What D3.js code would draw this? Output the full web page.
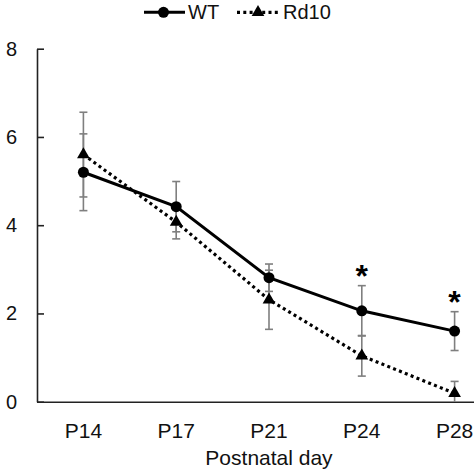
<!DOCTYPE html>
<html>
<head>
<meta charset="utf-8">
<script src="https://cdn.jsdelivr.net/npm/d3@7"></script>
<style>
  body { margin: 0; background: #fff; }
  svg { display: block; font-family: "Liberation Sans", Arial, sans-serif; }
</style>
</head>
<body>
<div class="chart"></div>
<script>
// data
const days = ["P14", "P17", "P21", "P24", "P28"];
const wt = [5.2, 4.42, 2.81, 2.06, 1.6];
const wtErr = [0.87, 0.57, 0.31, 0.57, 0.44];
const rd10 = [5.6, 4.07, 2.31, 1.04, 0.19];
const rd10Err = [0.96, 0.38, 0.67, 0.46, 0.27];
const sig = ["P24", "P28"];
const yTicks = [0, 2, 4, 6, 8];

const width = 474;
const height = 474;

const svg = d3.select('.chart')
  .append('svg')
  .attr('width', width)
  .attr('height', height);

// chart runs off the right edge like the original
const x = d3.scaleBand()
  .domain(days)
  .range([37, 501]);
const cx = d => x(d) + x.bandwidth() / 2;

const y = d3.scaleLinear()
  .domain([0, 8])
  .range([401.7, 48.7]);

// axes
svg.append('g')
  .attr('transform', 'translate(0,' + y(0) + ')')
  .call(d3.axisBottom(x).tickSize(0).tickPadding(21))
  .call(g => g.select('.domain').attr('stroke', '#222').attr('stroke-width', 1.6))
  .call(g => g.selectAll('text').attr('font-size', 21).attr('fill', '#111').attr('font-family', null));

svg.append('g')
  .attr('transform', 'translate(37,0)')
  .call(d3.axisLeft(y).tickValues(yTicks).tickSizeInner(-7).tickSizeOuter(0).tickPadding(20))
  .call(g => g.select('.domain').attr('stroke', '#222').attr('stroke-width', 1.6))
  .call(g => g.selectAll('.tick line').attr('stroke', '#222').attr('stroke-width', 1.6))
  .call(g => g.selectAll('text').attr('font-size', 20).attr('fill', '#111').attr('font-family', null));

svg.append('text')
  .attr('x', cx("P21"))
  .attr('y', 465)
  .attr('text-anchor', 'middle')
  .attr('font-size', 21)
  .attr('fill', '#111')
  .text('Postnatal day');

// error bars (cut at zero, as in the original)
const series = [
  { vals: wt, err: wtErr },
  { vals: rd10, err: rd10Err }
];
series.forEach(s => {
  const g = svg.append('g').attr('stroke', '#7f7f7f').attr('stroke-width', 1.6);
  days.forEach((d, i) => {
    const lo = y(Math.max(0, s.vals[i] - s.err[i]));
    const hi = y(s.vals[i] + s.err[i]);
    g.append('line').attr('x1', cx(d)).attr('x2', cx(d)).attr('y1', lo).attr('y2', hi);
    if (s.vals[i] - s.err[i] > 0)
      g.append('line').attr('x1', cx(d) - 4).attr('x2', cx(d) + 4).attr('y1', lo).attr('y2', lo);
    g.append('line').attr('x1', cx(d) - 4).attr('x2', cx(d) + 4).attr('y1', hi).attr('y2', hi);
  });
});

// lines
const line = d3.line()
  .x((v, i) => cx(days[i]))
  .y(v => y(v));

svg.append('path')
  .datum(rd10)
  .attr('d', line)
  .attr('fill', 'none')
  .attr('stroke', '#000')
  .attr('stroke-width', 3.2)
  .attr('stroke-dasharray', '3,3.3');

svg.append('path')
  .datum(wt)
  .attr('d', line)
  .attr('fill', 'none')
  .attr('stroke', '#000')
  .attr('stroke-width', 3);

// markers
svg.selectAll('circle.wt')
  .data(wt)
  .enter()
  .append('circle')
  .attr('class', 'wt')
  .attr('cx', (v, i) => cx(days[i]))
  .attr('cy', v => y(v))
  .attr('r', 5.5)
  .attr('fill', '#000');

const tri = d3.symbol().type(d3.symbolTriangle).size(70);
svg.selectAll('path.rd10')
  .data(rd10)
  .enter()
  .append('path')
  .attr('class', 'rd10')
  .attr('d', tri)
  .attr('transform', (v, i) => 'translate(' + cx(days[i]) + ',' + y(v) + ')')
  .attr('fill', '#000');

// significance stars above WT error bar
svg.selectAll('text.star')
  .data(sig)
  .enter()
  .append('text')
  .attr('class', 'star')
  .attr('x', d => cx(d))
  .attr('y', d => {
    const i = days.indexOf(d);
    return y(wt[i] + wtErr[i]) + 1;
  })
  .attr('text-anchor', 'middle')
  .attr('font-size', 32)
  .attr('font-weight', 'bold')
  .attr('fill', '#000')
  .text('*');

// legend
const leg = svg.append('g');
leg.append('line').attr('x1', 144).attr('x2', 185).attr('y1', 12.3).attr('y2', 12.3)
  .attr('stroke', '#000').attr('stroke-width', 3);
leg.append('circle').attr('cx', 163.5).attr('cy', 12.3).attr('r', 5.5).attr('fill', '#000');
leg.append('text').attr('x', 188).attr('y', 19).attr('font-size', 20).attr('fill', '#111').text('WT');

leg.append('line').attr('x1', 237).attr('x2', 279).attr('y1', 12.3).attr('y2', 12.3)
  .attr('stroke', '#000').attr('stroke-width', 3.2).attr('stroke-dasharray', '3,3.3');
leg.append('path').attr('d', tri).attr('transform', 'translate(258,12.3)').attr('fill', '#000');
leg.append('text').attr('x', 283).attr('y', 19).attr('font-size', 20).attr('fill', '#111').text('Rd10');
</script>
</body>
</html>
